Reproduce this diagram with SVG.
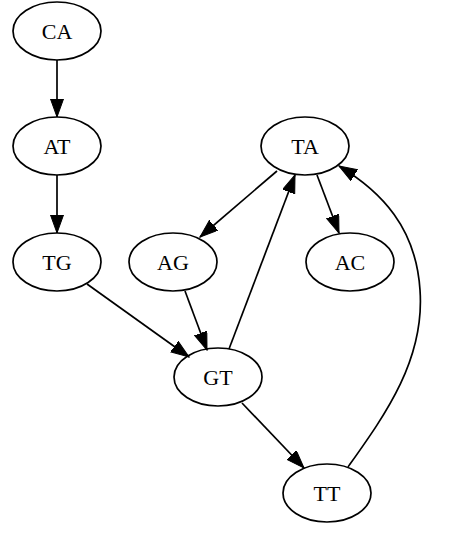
<svg xmlns="http://www.w3.org/2000/svg" width="474" height="535" viewBox="0 0 474 535">
<style>
.n ellipse{fill:none;stroke:#000;stroke-width:1.7}
.n text{font-family:"Liberation Serif","Times New Roman",serif;font-size:22px;fill:#000;text-anchor:middle;dominant-baseline:central}
.e path{fill:none;stroke:#000;stroke-width:1.7;marker-end:url(#ah)}
</style>
<defs>
<marker id="ah" markerUnits="userSpaceOnUse" markerWidth="19" markerHeight="14" refX="18" refY="6.5" orient="auto">
<path d="M0,0 L18,6.5 L0,13 z" fill="#000" stroke="#000" stroke-width="1"/>
</marker>
</defs>
<rect width="474" height="535" fill="#fff"/>
<g id="edges" class="e">
<path d="M57,60 L57,117"/>
<path d="M57,175 L57,233"/>
<path d="M87,284 L189,357"/>
<path d="M185,291 L207,350"/>
<path d="M277,171 L200,237"/>
<path d="M229,349 L295,175"/>
<path d="M317,175 L339,233"/>
<path d="M242,403 L304,468"/>
<path d="M348,467 C385,415 425,360 420,290 C416,228 382,192 339,166"/>
</g>
<g id="CA" class="n"><ellipse cx="57" cy="31" rx="44" ry="29"/><text x="57" y="31">CA</text></g>
<g id="AT" class="n"><ellipse cx="57" cy="146" rx="44" ry="29"/><text x="57" y="146">AT</text></g>
<g id="TG" class="n"><ellipse cx="57" cy="262" rx="44" ry="29"/><text x="57" y="262">TG</text></g>
<g id="AG" class="n"><ellipse cx="173" cy="262" rx="44" ry="29"/><text x="173" y="262">AG</text></g>
<g id="GT" class="n"><ellipse cx="218" cy="377" rx="44" ry="29"/><text x="218" y="377">GT</text></g>
<g id="TA" class="n"><ellipse cx="305" cy="146" rx="44" ry="29"/><text x="305" y="146">TA</text></g>
<g id="AC" class="n"><ellipse cx="350" cy="262" rx="44" ry="29"/><text x="350" y="262">AC</text></g>
<g id="TT" class="n"><ellipse cx="327" cy="493" rx="44" ry="29"/><text x="327" y="493">TT</text></g>
</svg>
